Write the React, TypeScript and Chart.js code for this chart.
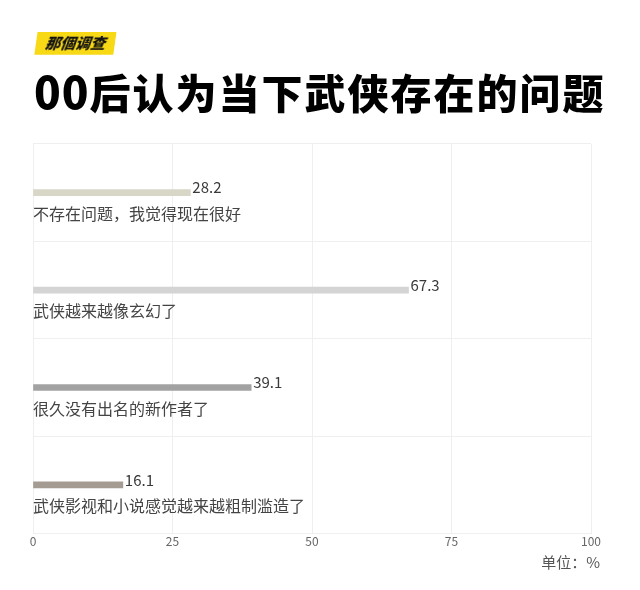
import React, { useEffect, useRef } from "react";
import { Chart, registerables } from "chart.js";

Chart.register(...registerables);

const categories = [
  "不存在问题，我觉得现在很好",
  "武侠越来越像玄幻了",
  "很久没有出名的新作者了",
  "武侠影视和小说感觉越来越粗制滥造了",
];
const values = [28.2, 67.3, 39.1, 16.1];
const barColors = ["#d8d6c6", "#d4d4d4", "#a2a2a2", "#a49b92"];
const xTicks = [0, 25, 50, 75, 100];

const FONT = "'Noto Sans CJK SC', 'Noto Sans', sans-serif";

const labelPlugin = {
  id: "inlineLabels",
  afterDatasetsDraw(chart: any) {
    const ctx = chart.ctx;
    const meta = chart.getDatasetMeta(0);
    const left = chart.chartArea.left;
    ctx.save();
    meta.data.forEach((el: any, i: number) => {
      ctx.fillStyle = "#3a3a3a";
      ctx.font = `15px ${FONT}`;
      ctx.textAlign = "left";
      ctx.textBaseline = "middle";
      ctx.fillText(String(values[i]), el.x + 2, el.y - 5);
      ctx.font = `16px ${FONT}`;
      ctx.fillStyle = "#444";
      ctx.fillText(categories[i], left, el.y + 21);
    });
    ctx.restore();
  },
};

export default function App() {
  const ref = useRef<HTMLCanvasElement | null>(null);
  useEffect(() => {
    if (!ref.current) return;
    const chart = new Chart(ref.current, {
      type: "bar",
      data: {
        labels: categories,
        datasets: [
          {
            data: values,
            backgroundColor: barColors,
            barThickness: 6,
            borderWidth: 0,
          },
        ],
      },
      options: {
        indexAxis: "y",
        animation: false,
        responsive: true,
        maintainAspectRatio: false,
        layout: { padding: { top: 144, left: 33, right: 49, bottom: 40 } },
        plugins: { legend: { display: false }, tooltip: { enabled: false } },
        scales: {
          x: {
            min: 0,
            max: 100,
            afterBuildTicks: (axis: any) => {
              axis.ticks = xTicks.map((v) => ({ value: v }));
            },
            grid: { color: "#efefef", drawTicks: false },
            border: { display: false },
            ticks: { padding: 1, color: "#666", font: { family: FONT, size: 12 } },
          },
          y: {
            grid: { color: "#efefef", drawTicks: false, offset: true },
            border: { display: false },
            ticks: { display: false },
          },
        },
      },
      plugins: [labelPlugin],
    });
    return () => chart.destroy();
  }, []);

  return (
    <div style={{ position: "relative", width: 640, height: 590, margin: -8, background: "#fff", overflow: "hidden" }}>
      <div style={{ position: "absolute", left: 0, top: 0, width: 640, height: 590 }}>
        <canvas ref={ref} />
      </div>
      <div
        style={{
          position: "absolute",
          left: 36,
          top: 32,
          height: 22,
          width: 79,
          background: "#f7d916",
          color: "#111",
          fontFamily: FONT,
          fontWeight: 900,
          fontStyle: "italic",
          fontSize: 15,
          lineHeight: "22px",
          textAlign: "center",
          transform: "skewX(-8deg)",
        }}
      >
        那個调查
      </div>
      <div
        style={{
          position: "absolute",
          left: 34,
          top: 62,
          fontFamily: FONT,
          fontWeight: 900,
          fontSize: 41,
          lineHeight: "56px",
          letterSpacing: 2,
          color: "#000",
          whiteSpace: "nowrap",
        }}
      >
        <span style={{ fontSize: 44, letterSpacing: 1 }}>00</span>
        后认为当下武侠存在的问题
      </div>
      <div
        style={{
          position: "absolute",
          right: 40,
          top: 551,
          fontFamily: FONT,
          fontSize: 15,
          color: "#555",
          whiteSpace: "nowrap",
        }}
      >
        单位：%
      </div>
    </div>
  );
}
